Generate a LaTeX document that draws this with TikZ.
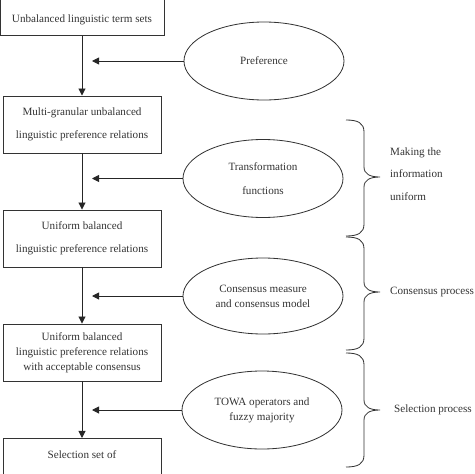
\documentclass[tikz,border=0pt]{standalone}
\usepackage{fontspec}
\setmainfont{Liberation Serif}
\usepackage{tikz}
\usetikzlibrary{arrows.meta,shapes.geometric}
\newcommand{\stagebrace}[3]{%
  \draw[stage] (346,#1) .. controls (358,#1) and (364,#1+3) .. (364,#1+12)
    -- (364,#2-10) .. controls (364,#2-3) and (370,#2) .. (380,#2)
    .. controls (370,#2) and (364,#2+3) .. (364,#2+10)
    -- (364,#3-12) .. controls (364,#3-3) and (358,#3) .. (346,#3);}

\begin{document}
\begin{tikzpicture}[
    x=0.03cm, y=-0.03cm,
    every node/.style={font=\fontsize{9.5}{13}\selectfont, text=black!80},
    box/.style={rectangle, draw=black!80, line width=0.8pt, minimum width=4.74cm, minimum height=1.71cm, align=center, inner sep=0pt},
    oval/.style={ellipse, draw=black!80, line width=0.7pt, minimum width=4.8cm, minimum height=2.34cm, align=center, inner sep=0pt},
    arr/.style={draw=black!85, line width=0.8pt, -{Triangle[length=6pt,width=6pt]}},
    stage/.style={draw=black!80, line width=0.7pt}
]
\useasboundingbox (0,0) rectangle (474,474);

% Main flow
\node[box, minimum width=4.92cm, minimum height=0pt, text height=27pt, text depth=11pt, anchor=south] (terms) at (82,36) {Unbalanced linguistic term sets};
\node[box] (multigran) at (82,124.5) {Multi-granular unbalanced\\[7pt]linguistic preference relations};
\node[box] (uniform) at (82,238.5) {Uniform balanced\\[7pt]linguistic preference relations};
\node[box] (accepted) at (82,352.5) {Uniform balanced\\linguistic preference relations\\with acceptable consensus};
\node[box, minimum height=0pt, text height=17.4pt, text depth=24pt, anchor=north] (selection) at (82,438) {Selection set of};

\draw[arr] (terms) -- (multigran);
\draw[arr] (multigran) -- (uniform);
\draw[arr] (uniform) -- (accepted);
\draw[arr] (accepted) -- (selection);

% Inputs
\node[oval] (pref) at (264,61) {Preference};
\node[oval] (transf) at (263,178.5) {Transformation\\[7pt]functions};
\node[oval, minimum height=2.28cm] (consmodel) at (263,296) {Consensus measure\\and consensus model};
\node[oval] (towa) at (262,410) {TOWA operators and\\fuzzy majority};

\coordinate (pref-in) at (92,61);
\coordinate (transf-in) at (92,178.5);
\coordinate (consmodel-in) at (92,296);
\coordinate (towa-in) at (92,410);

\draw[arr] (pref) -- (pref-in);
\draw[arr] (transf) -- (transf-in);
\draw[arr] (consmodel) -- (consmodel-in);
\draw[arr] (towa) -- (towa-in);

% Stages
\stagebrace{120}{177}{236}
\stagebrace{237}{292}{350}
\stagebrace{353}{410}{467}

\node[anchor=west, align=left] (making) at (386,174) {Making the\\[6pt]information\\[6pt]uniform};
\node[anchor=west] (consproc) at (386,292) {Consensus process};
\node[anchor=west] (selproc) at (390,410) {Selection process};
\end{tikzpicture}
\end{document}
